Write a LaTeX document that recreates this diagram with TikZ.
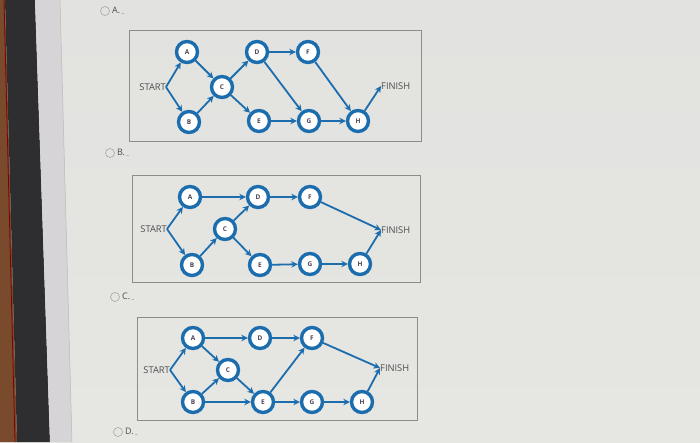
\documentclass[tikz,border=0pt]{standalone}
\usepackage{fontspec}
\setmainfont{Open Sans}
\usetikzlibrary{arrows.meta}
\definecolor{bl}{HTML}{1C6DAE}
\definecolor{lettr}{HTML}{4A4352}
\definecolor{txtgray}{HTML}{4C4C4C}
\definecolor{pagetop}{HTML}{E2E3E0}
\definecolor{pagebot}{HTML}{E6E6E2}
\definecolor{bezel}{HTML}{2E2E30}
\definecolor{wood}{HTML}{7A4A2C}
\definecolor{band}{HTML}{D6D4D6}
\definecolor{boxline}{HTML}{8C8C8C}
\begin{document}
\begin{tikzpicture}[x=1pt,y=-1pt,
  nd/.style={circle, draw=bl, line width=3.4pt, fill=white, minimum size=21pt, inner sep=0pt,
    font=\fontsize{6.5}{7}\selectfont\bfseries, text=lettr},
  ar/.style={draw=bl, line width=1.8pt, -{Stealth[length=6.5pt,width=6.5pt]}},
  lbl/.style={font=\fontsize{9.3}{10}\selectfont, text=txtgray, inner sep=0pt},
  frame/.style={draw=boxline, line width=0.9pt},
  radio/.style={circle, draw=gray!70, line width=0.6pt, minimum size=9pt, inner sep=0pt},
  opt/.style={font=\fontsize{9}{10}\selectfont, text=txtgray, inner sep=0pt, anchor=west}]
\useasboundingbox (0,0) rectangle (700,442);
\shade[top color=pagetop, bottom color=pagebot] (0,0) rectangle (700,442);
% monitor bezel
\fill[wood] (0,0) -- (5,0) -- (17,442) -- (0,442) -- cycle;
\draw[red!50!black, line width=0.8pt] (4,0) -- (15,442);
\fill[bezel] (5,0) -- (35,0) -- (50,442) -- (17,442) -- cycle;
\fill[band] (35,0) -- (60,0) -- (72,442) -- (50,442) -- cycle;
\draw[gray!55, line width=0.5pt] (60,0) -- (72,442);

% option labels
\node[radio] (ra) at (105,11) {};
\node[opt] (ta) at (112,11) {A.\,{\tiny\_}};
\node[radio] (rb) at (110,153) {};
\node[opt] (tb) at (117,153) {B.\,{\tiny\_}};
\node[radio] (rc) at (115,297) {};
\node[opt] (tc) at (122,297) {C.\,{\tiny\_}};
\node[radio] (rd) at (118,432) {};
\node[opt] (td) at (125,432) {D.\,{\tiny\_}};

% ===== Diagram A =====
\draw[frame] (129,30) rectangle (421,141);
\node[lbl, anchor=east] (s1) at (166,87) {START};
\node[lbl, anchor=west] (f1) at (381,86) {FINISH};
\node[nd] (a1) at (187,52) {A};
\node[nd] (b1) at (189,122) {B};
\node[nd] (c1) at (222,87) {C};
\node[nd] (d1) at (257,52) {D};
\node[nd] (e1) at (259,121) {E};
\node[nd] (ff1) at (308,52) {F};
\node[nd] (g1) at (309,121) {G};
\node[nd] (h1) at (358,121) {H};
\draw[ar] (s1.east) -- (a1);
\draw[ar] (s1.east) -- (b1);
\draw[ar] (a1) -- (c1);
\draw[ar] (b1) -- (c1);
\draw[ar] (c1) -- (d1);
\draw[ar] (c1) -- (e1);
\draw[ar] (d1) -- (ff1);
\draw[ar] (d1) -- (g1);
\draw[ar] (ff1) -- (h1);
\draw[ar] (e1) -- (g1);
\draw[ar] (g1) -- (h1);
\draw[ar] (h1) -- (f1.west);

% ===== Diagram B =====
\draw[frame] (132,175) rectangle (420,282);
\node[lbl, anchor=east] (s2) at (167,229) {START};
\node[lbl, anchor=west] (f2) at (381,230) {FINISH};
\node[nd] (a2) at (190,197) {A};
\node[nd] (b2) at (192,265) {B};
\node[nd] (c2) at (225,229) {C};
\node[nd] (d2) at (258,197) {D};
\node[nd] (e2) at (260,265) {E};
\node[nd] (ff2) at (310,197) {F};
\node[nd] (g2) at (310,264) {G};
\node[nd] (h2) at (360,264) {H};
\draw[ar] (s2.east) -- (a2);
\draw[ar] (s2.east) -- (b2);
\draw[ar] (a2) -- (d2);
\draw[ar] (b2) -- (c2);
\draw[ar] (c2) -- (d2);
\draw[ar] (c2) -- (e2);
\draw[ar] (d2) -- (ff2);
\draw[ar] (ff2) -- (f2.west);
\draw[ar] (e2) -- (g2);
\draw[ar] (g2) -- (h2);
\draw[ar] (h2) -- (f2.west);

% ===== Diagram C =====
\draw[frame] (137,317) rectangle (417,420);
\node[lbl, anchor=east] (s3) at (170,370) {START};
\node[lbl, anchor=west] (f3) at (380,368) {FINISH};
\node[nd] (a3) at (193,338) {A};
\node[nd] (b3) at (193,402) {B};
\node[nd] (c3) at (228,370) {C};
\node[nd] (d3) at (260,338) {D};
\node[nd] (e3) at (263,402) {E};
\node[nd] (ff3) at (312,338) {F};
\node[nd] (g3) at (312,402) {G};
\node[nd] (h3) at (362,402) {H};
\draw[ar] (s3.east) -- (a3);
\draw[ar] (s3.east) -- (b3);
\draw[ar] (a3) -- (d3);
\draw[ar] (a3) -- (c3);
\draw[ar] (b3) -- (c3);
\draw[ar] (b3) -- (e3);
\draw[ar] (c3) -- (e3);
\draw[ar] (d3) -- (ff3);
\draw[ar] (e3) -- (ff3);
\draw[ar] (e3) -- (g3);
\draw[ar] (g3) -- (h3);
\draw[ar] (ff3) -- (f3.west);
\draw[ar] (h3) -- (f3.west);
\end{tikzpicture}
\end{document}
